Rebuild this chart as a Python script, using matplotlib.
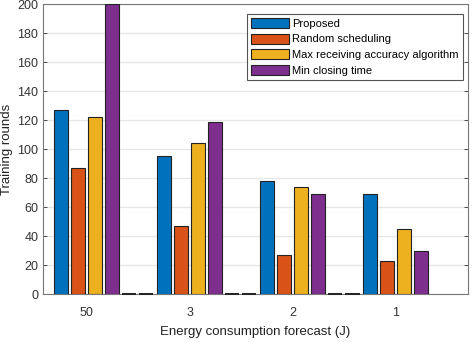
import numpy as np
import matplotlib.pyplot as plt

plt.rcParams['font.family'] = ['Liberation Sans', 'DejaVu Sans']

categories = ['50', '3', '2', '1']
series_names = ['Proposed', 'Random scheduling',
                'Max receiving accuracy algorithm', 'Min closing time']
proposed = [127, 95, 78, 69]
random_sched = [87, 47, 27, 23]
max_accuracy = [122, 104, 74, 45]
min_closing = [200, 119, 69, 30]
# empty slots drawn after the first three groups
empty_slots = [0, 0, 0]

colors = ['#0072BD', '#D95319', '#EDB120', '#7E2F8E']

fig = plt.figure(figsize=(4.74, 3.42), dpi=100)
ax = fig.add_axes([0.091, 0.140, 0.896, 0.848])

x = np.arange(len(categories))
pitch = 0.166
width = 0.137
values = [proposed, random_sched, max_accuracy, min_closing]
for k, (vals, name, c) in enumerate(zip(values, series_names, colors)):
    ax.bar(x + (k - 1.5) * pitch, vals, width, color=c, edgecolor='#222222',
           linewidth=0.8, label=name, zorder=3)
for k in (4, 5):
    ax.bar(x[:3] + (k - 1.5) * pitch, empty_slots, width, color='none',
           edgecolor='#222222', linewidth=1.4, zorder=4, clip_on=False)

ax.set_xlim(-0.42, 3.70)
ax.set_ylim(0, 200)
ax.set_yticks(np.arange(0, 201, 20))
ax.set_xticks(x)
ax.set_xticklabels(categories)
ax.yaxis.grid(True, color='#e6e6e6', linewidth=0.9, zorder=0)
ax.tick_params(axis='both', direction='in', labelsize=9, colors='#333333',
               length=3, width=0.6)
ax.tick_params(axis='y', right=True)
ax.tick_params(axis='x', length=0, pad=9)
for side in ax.spines.values():
    side.set_color('#777777')
    side.set_linewidth(0.8)

ax.set_xlabel('Energy consumption forecast (J)', fontsize=9.5, color='#222222',
              labelpad=5)
ax.set_ylabel('Training rounds', fontsize=9.5, color='#222222', labelpad=3)

leg = ax.legend(loc='upper right', bbox_to_anchor=(0.988, 0.966), fontsize=8,
                fancybox=False, framealpha=1, edgecolor='#555555',
                handlelength=3.4, handleheight=1.0, labelspacing=0.45,
                handletextpad=0.3, borderpad=0.35, borderaxespad=0)
leg.get_frame().set_linewidth(0.8)

fig.savefig('out.png', dpi=100)
